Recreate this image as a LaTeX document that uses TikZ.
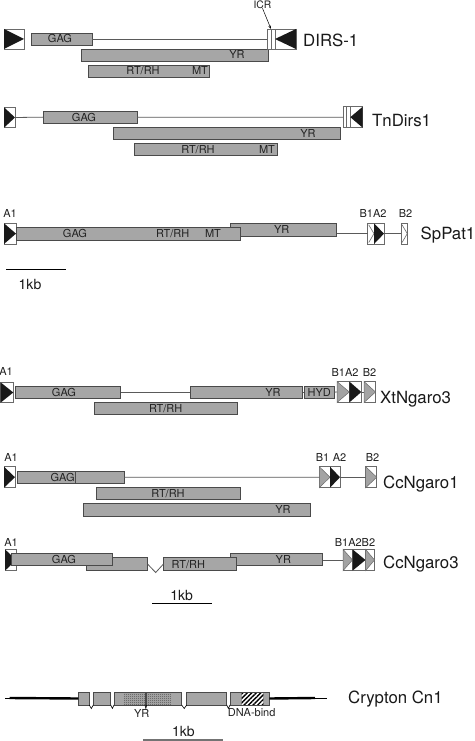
\documentclass[tikz,border=0pt]{standalone}
\usepackage{fontspec}
\setmainfont{TeX Gyre Heros}
\usetikzlibrary{patterns,patterns.meta,calc,arrows.meta}
\definecolor{boxg}{HTML}{A6A6A6}
\definecolor{bord}{HTML}{4A4A4A}
\definecolor{lbord}{HTML}{6A6A6A}
\definecolor{trig}{HTML}{A3A3A3}
\definecolor{linec}{HTML}{5A5A5A}
\definecolor{txtc}{HTML}{222222}
\tikzdeclarepattern{name=fdots, type=uncolored,
  bounding box={(0,0) and (2pt,2pt)}, tile size={(2pt,2pt)},
  code={\fill (0,0) rectangle (1pt,1pt); \fill (1pt,1pt) rectangle (2pt,2pt);}}
\newcommand{\mkbox}[6][]{\node[#1,minimum width={(#5)-(#3)},minimum height={(#6)-(#4)}] (#2) at ({((#3)+(#5))/2},{((#4)+(#6))/2}) {};}
\newcommand{\triR}[2]{\fill[#2] (#1.north west) -- (#1.east) -- (#1.south west) -- cycle;}
\newcommand{\triL}[2]{\fill[#2] (#1.north east) -- (#1.west) -- (#1.south east) -- cycle;}
\newcommand{\triG}[1]{\filldraw[fill=trig, draw=lbord, line width=.5pt] (#1.north west) -- (#1.east) -- (#1.south west) -- cycle;}
\newcommand{\chev}[1]{\draw[lbord, line width=.6pt] ($(#1.north west)+(1,1.5)$) -- (#1.east) -- ($(#1.south west)+(1,-1.5)$);}
\begin{document}
\begin{tikzpicture}[x=1pt,y=-1pt,
  bxs/.style={rectangle, draw=bord, line width=0.7pt, inner sep=0pt, outer sep=0pt},
  gbox/.style={bxs, fill=boxg},
  wbox/.style={bxs, fill=white, draw=lbord},
  btxt/.style={font=\fontsize{11}{11}\selectfont, text=txtc, inner sep=0pt, text height=7.9pt, text depth=0pt},
  ltxt/.style={font=\fontsize{11}{11}\selectfont, text=black!88, inner sep=0pt, text height=7.9pt, text depth=0pt},
  ntxt/.style={font=\fontsize{16.8}{16.8}\selectfont, text=black!90, inner sep=0pt, anchor=west, text height=12pt, text depth=0pt},
  bb/.style={draw=linec, line width=0.8pt},
  kb/.style={font=\fontsize{14}{14}\selectfont, text=black!90, inner sep=0pt, text height=10pt, text depth=0pt},
  blk/.style={draw=black, line width=0.6pt}
]
\useasboundingbox[fill=white] (0,0) rectangle (474,741);

% ---------------- DIRS-1 ----------------
\mkbox[wbox]{d1L}{4}{29}{24}{49}
\triR{d1L}{black!90}
\mkbox[gbox]{d1yr}{81}{49}{268}{61}
\mkbox[gbox]{d1rt}{88}{65}{209}{77}
\mkbox[gbox]{d1gag}{31}{33}{92}{45}
\mkbox[wbox]{d1i1}{267}{29}{271}{49}
\mkbox[wbox]{d1i2}{271}{29}{275}{49}
\mkbox[wbox]{d1R}{275}{29}{296}{49}
\triL{d1R}{black!90}
\draw[bb] (d1gag.east) -- (d1i1.west);
\node[btxt] (d1t1) at (60,39) {GAG};
\node[btxt] (d1t2) at (237,55) {YR};
\node[btxt] (d1t3) at (143,71) {RT/RH};
\node[btxt] (d1t4) at (200,71) {MT};
\node[ltxt, font=\fontsize{10.3}{10.3}\selectfont, text height=7.4pt] (icr) at (262.5,4.4) {ICR};
\draw[black, line width=0.5pt, -{Stealth[length=3.5pt,width=2.6pt]}] (icr.south) -- (d1i1.north east);
\node[ntxt] (n1) at (303,41) {DIRS-1};

% ---------------- TnDirs1 ----------------
\mkbox[wbox]{t1L}{4}{107.3}{15}{127.7}
\triR{t1L}{black!90}
\mkbox[gbox]{t1yr}{113}{127.3}{340}{139.3}
\mkbox[gbox]{t1rt}{134}{143.3}{277}{155.7}
\mkbox[gbox]{t1gag}{43}{111}{137}{123.3}
\mkbox[wbox]{t1i1}{343}{106.7}{346.7}{127.7}
\mkbox[wbox]{t1i2}{346.7}{106.7}{350.3}{127.7}
\mkbox[wbox]{t1R}{350.3}{106.7}{362.7}{127.7}
\triL{t1R}{black!90}
\draw[bb] (t1L.east) -- (t1gag.west);
\draw[bb] (t1gag.east) -- (t1i1.west);
\node[btxt] (t1t1) at (84,117.2) {GAG};
\node[btxt] (t1t2) at (308,133.3) {YR};
\node[btxt] (t1t3) at (198,149.5) {RT/RH};
\node[btxt] (t1t4) at (267,149.5) {MT};
\node[ntxt] (n2) at (372,120) {TnDirs1};

% ---------------- SpPat1 ----------------
\node[ltxt] (s1a1) at (10,214) {A1};
\mkbox[wbox]{s1L}{4}{223.3}{16}{244}
\triR{s1L}{black!90}
\mkbox[gbox]{s1yr}{230}{223.3}{336.7}{236}
\mkbox[gbox]{s1main}{16}{227.7}{240.7}{240}
\mkbox[wbox]{s1b1}{367.7}{223.3}{374}{244}
\chev{s1b1}
\mkbox[wbox]{s1a2}{374}{223.3}{384}{244}
\triR{s1a2}{black!90}
\mkbox[wbox]{s1b2}{401}{223.3}{407.3}{244}
\chev{s1b2}
\draw[bb] (s1yr.east |- s1b1.west) -- (s1b1.west);
\draw[bb] (s1a2.east) -- (s1b2.west);
\node[btxt] (s1t1) at (75,233.8) {GAG};
\node[btxt] (s1t2) at (172.7,233.8) {RT/RH};
\node[btxt] (s1t3) at (213,233.8) {MT};
\node[btxt] (s1t4) at (281.7,229.7) {YR};
\node[ltxt] (s1lb) at (373,214) {B1A2};
\node[ltxt] (s1lb2) at (405.5,214) {B2};
\node[ntxt] (n3) at (420.5,233) {SpPat1};
\coordinate (sb1a) at (6,269.3);
\coordinate (sb1b) at (65.7,269.3);
\draw[black, line width=0.9pt] (sb1a) -- (sb1b);
\node[kb] (kb1) at (30,284.5) {1kb};

% ---------------- XtNgaro3 ----------------
\node[ltxt] (x1a1) at (6,372) {A1};
\mkbox[wbox]{x1L}{0.5}{382.3}{13.3}{402.7}
\triR{x1L}{black!90}
\mkbox[gbox]{x1gag}{15}{386}{120.7}{398.3}
\mkbox[gbox]{x1yr}{190}{386}{302.7}{398.3}
\mkbox[gbox]{x1hyd}{304.3}{386}{334.3}{398.3}
\mkbox[gbox]{x1rt}{94}{402.3}{237.7}{414.3}
\mkbox[wbox]{x1b1}{337}{381.5}{349.3}{402.5}
\triG{x1b1}
\mkbox[wbox]{x1a2}{349.3}{381.5}{361.3}{402.5}
\triR{x1a2}{black!90}
\mkbox[wbox]{x1b2}{364}{381.5}{375.5}{402.5}
\triG{x1b2}
\draw[bb] (x1gag.east) -- (x1yr.west);
\draw[bb, densely dotted] (x1yr.east) -- (x1hyd.west);
\draw[bb] (x1hyd.east) -- (x1b1.west);
\draw[bb] (x1a2.east) -- (x1b2.west);
\node[btxt] (x1t1) at (64,392.2) {GAG};
\node[btxt] (x1t2) at (273,392.2) {YR};
\node[btxt] (x1t3) at (319.3,392.2) {HYD};
\node[btxt] (x1t4) at (165.7,408.3) {RT/RH};
\node[ltxt] (x1lb) at (345,372.5) {B1A2};
\node[ltxt] (x1lb2) at (369.5,372.5) {B2};
\node[ntxt] (n4) at (380,397) {XtNgaro3};

% ---------------- CcNgaro1 ----------------
\node[ltxt] (c1a1) at (11,458) {A1};
\mkbox[wbox]{c1L}{4}{466.7}{15}{487.7}
\triR{c1L}{black!90}
\mkbox[gbox]{c1gag}{17.3}{471}{124}{483.3}
\draw[bord, line width=.5pt] (75.7,471) -- (75.7,483.3);
\mkbox[gbox]{c1rt}{96.7}{487.3}{240.7}{499.3}
\mkbox[gbox]{c1yr}{83.3}{503.3}{310.7}{516}
\mkbox[wbox]{c1b1}{319.3}{466.7}{330}{487.7}
\triG{c1b1}
\mkbox[wbox]{c1a2}{330}{466.7}{340}{487.7}
\triR{c1a2}{black!90}
\mkbox[wbox]{c1b2}{365.7}{466.7}{376.7}{487.7}
\triG{c1b2}
\draw[bb] (c1gag.east) -- (c1b1.west);
\draw[bb] (c1a2.east) -- (c1b2.west);
\node[btxt] (c1t1) at (62.7,477.2) {GAG};
\node[btxt] (c1t2) at (168,493.3) {RT/RH};
\node[btxt] (c1t3) at (283,509.7) {YR};
\node[ltxt] (c1lb1) at (322.5,458) {B1};
\node[ltxt] (c1lb2) at (339.5,458) {A2};
\node[ltxt] (c1lb3) at (372.5,458) {B2};
\node[ntxt] (n5) at (383,482) {CcNgaro1};

% ---------------- CcNgaro3 ----------------
\node[ltxt] (c3a1) at (11,543) {A1};
\mkbox[wbox]{c3L}{5}{549.3}{16}{570.7}
\triR{c3L}{black!90}
\mkbox[gbox]{c3ex2}{86}{557.7}{147.7}{570.7}
\mkbox[gbox]{c3gag}{11.7}{553.3}{112.7}{565.7}
\mkbox[gbox]{c3yr}{230}{553.3}{322.7}{565.7}
\mkbox[gbox]{c3rt}{163.3}{557.7}{236}{570.7}
\coordinate (c3v) at (155.7,572.5);
\draw[bb] (c3ex2.east) -- (c3v) -- (c3rt.west);
\mkbox[wbox]{c3b1}{343}{549.3}{352.5}{570.7}
\triG{c3b1}
\mkbox[wbox]{c3a2}{352.5}{549.3}{365.5}{570.7}
\triR{c3a2}{black!90}
\mkbox[wbox]{c3b2}{365.5}{549.3}{374.5}{570.7}
\triG{c3b2}
\draw[bb] (c3yr.east |- c3b1.west) -- (c3b1.west);
\node[btxt] (c3t1) at (64,559.5) {GAG};
\node[btxt] (c3t2) at (188.3,564.2) {RT/RH};
\node[btxt] (c3t3) at (283.3,559.5) {YR};
\node[ltxt] (c3lb) at (355,543) {B1A2B2};
\node[ntxt] (n6) at (383,562) {CcNgaro3};
\coordinate (sb2a) at (152.3,603.7);
\coordinate (sb2b) at (211.7,603.7);
\draw[black, line width=0.9pt] (sb2a) -- (sb2b);
\node[kb] (kb2) at (181.7,595) {1kb};

% ---------------- Crypton Cn1 ----------------
\coordinate (cr0) at (5,698);
\coordinate (cr1) at (9.5,698);
\coordinate (cr2) at (315,698);
\coordinate (cr3) at (326.7,698);
\mkbox[gbox]{e1}{78.3}{692}{89.3}{705}
\mkbox[gbox]{e2}{93.3}{692}{110.7}{705}
\mkbox[gbox]{e3}{114}{692}{145}{705}
\mkbox[gbox]{e4}{146.7}{692}{181.7}{705}
\mkbox[gbox]{e5}{186.7}{692}{226.7}{705}
\mkbox[gbox]{e6}{230}{692}{269.3}{705}
\fill[black!30] (124,692.4) rectangle (145,704.6);
\fill[pattern=fdots, pattern color=black!85] (124,692.4) rectangle (145,704.6);
\fill[black!30] (146.7,692.4) rectangle (171.7,704.6);
\fill[pattern=fdots, pattern color=black!85] (146.7,692.4) rectangle (171.7,704.6);
\fill[white] (241.7,692.4) rectangle (263.3,704.6);
\fill[pattern={Lines[angle=45,distance=3.2pt,line width=1.4pt]}, pattern color=black] (241.7,692.4) rectangle (263.3,704.6);
\draw[bord, line width=0.7pt] (e3.north west) rectangle (e3.south east);
\draw[bord, line width=0.7pt] (e4.north west) rectangle (e4.south east);
\draw[bord, line width=0.7pt] (e6.north west) rectangle (e6.south east);
\draw[black, line width=0.6pt] (cr0) -- (cr1);
\draw[black, line width=2.4pt] (cr1) -- (e1.west);
\draw[black, line width=2.4pt] (e6.east) -- (cr2);
\draw[black, line width=0.6pt] (cr2) -- (cr3);
\draw[blk] (e1.south east) -- ($(e1.south east)!.5!(e2.south west)+(0,3.5)$) -- (e2.south west);
\draw[blk] (e2.south east) -- ($(e2.south east)!.5!(e3.south west)+(0,3.5)$) -- (e3.south west);
\draw[blk] (e3.south east) -- ($(e3.south east)!.5!(e4.south west)+(0,3.5)$) -- (e4.south west);
\draw[blk] (e4.south east) -- ($(e4.south east)!.5!(e5.south west)+(0,3.5)$) -- (e5.south west);
\draw[blk] (e5.south east) -- ($(e5.south east)!.5!(e6.south west)+(0,3.5)$) -- (e6.south west);
\node[btxt] (cyr) at (141.7,713.3) {YR};
\node[btxt] (cdna) at (251.7,713) {DNA-bind};
\node[ntxt] (n7) at (348,697) {Crypton Cn1};
\coordinate (sb3a) at (143.3,739.5);
\coordinate (sb3b) at (222.7,739.5);
\draw[black!55, line width=2pt] (sb3a) -- (sb3b);
\node[kb] (kb3) at (183.3,731.2) {1kb};
\end{tikzpicture}
\end{document}
